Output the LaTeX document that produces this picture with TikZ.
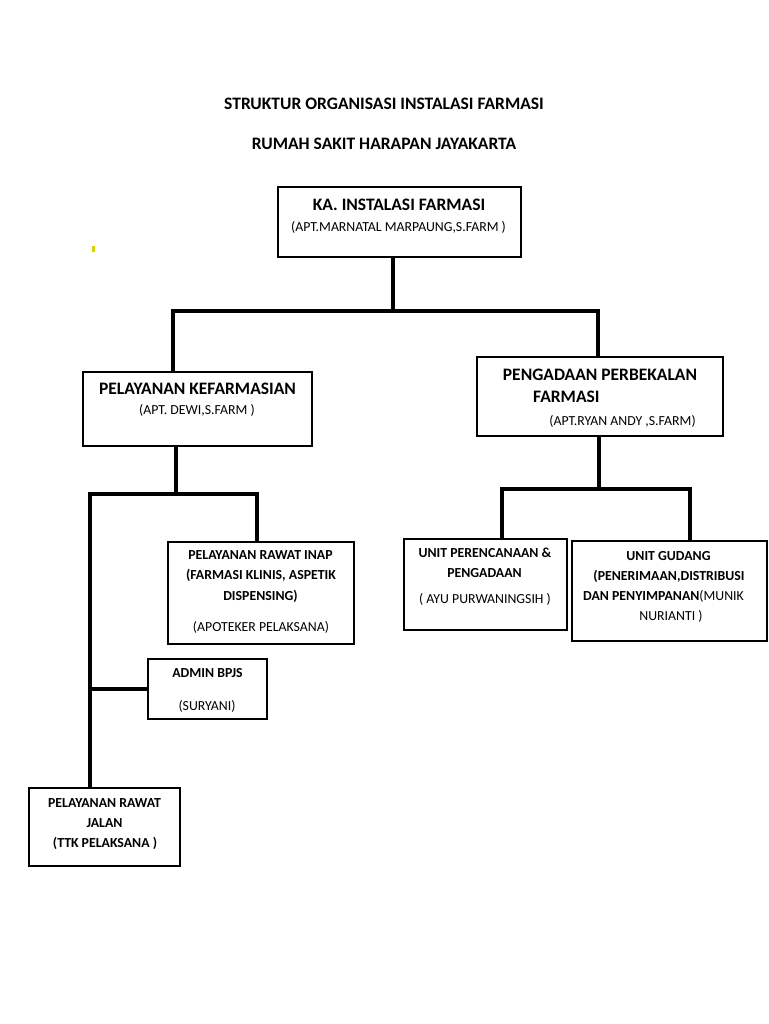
\documentclass[tikz,border=0pt]{standalone}
\usepackage{fontspec}
\setmainfont{Carlito}

\begin{document}
\begin{tikzpicture}[x=1pt,y=-1pt,
  box/.style={draw,line width=1.2pt,inner sep=0pt},
  link/.style={line width=4pt},
  head/.style={font=\fontsize{17.5}{21}\selectfont\bfseries,inner sep=0pt},
  txt/.style={font=\fontsize{13.8}{16}\selectfont,inner sep=0pt},
  btxt/.style={font=\fontsize{13.8}{16}\selectfont\bfseries,inner sep=0pt}]
\useasboundingbox (0,0) rectangle (768,1024);
\fill[white] (0,0) rectangle (768,1024);
% title
\node (t1) at (384,104) [head]{STRUKTUR ORGANISASI INSTALASI FARMASI};
\node (t2) at (384,144) [head]{RUMAH SAKIT HARAPAN JAYAKARTA};
\fill[yellow!70!olive] (92,246) rectangle (95,252);
% boxes
\node (ka) at (399.5,222) [box,minimum width=243pt,minimum height=70pt]{};
\node (pk) at (197.5,409) [box,minimum width=229pt,minimum height=74pt]{};
\node (pp) at (600,396.5) [box,minimum width=246pt,minimum height=79pt]{};
\node (up) at (485.5,584.5) [box,minimum width=163pt,minimum height=91pt]{};
\node (ug) at (669.5,591) [box,minimum width=195pt,minimum height=100pt]{};
\node (ri) at (261,593) [box,minimum width=186pt,minimum height=102pt]{};
\node (ad) at (207.5,689) [box,minimum width=119pt,minimum height=60pt]{};
\node (rj) at (104.5,827) [box,minimum width=151pt,minimum height=78pt]{};
% texts
\node (ka1) at (399,205) [head]{KA. INSTALASI FARMASI};
\node (ka2) at (398.5,227) [txt]{(APT.MARNATAL MARPAUNG,S.FARM )};
\node (pk1) at (197.5,389) [head]{PELAYANAN KEFARMASIAN};
\node (pk2) at (197,410) [txt]{(APT. DEWI,S.FARM )};
\node (pp1) at (600,375) [head]{PENGADAAN PERBEKALAN};
\node (pp2) at (533,397) [head,anchor=west]{FARMASI};
\node (pp3) at (622.5,421) [txt]{(APT.RYAN ANDY ,S.FARM)};
\node (up1) at (485,553) [btxt]{UNIT PERENCANAAN \&};
\node (up2) at (484.5,573) [btxt]{PENGADAAN};
\node (up3) at (485,599) [txt]{( AYU PURWANINGSIH )};
\node (ug1) at (668.5,556) [btxt]{UNIT GUDANG};
\node (ug2) at (669,576) [btxt]{(PENERIMAAN,DISTRIBUSI};
\node (ug3) at (663.5,596) [txt]{\bfseries DAN PENYIMPANAN\mdseries(MUNIK};
\node (ug4) at (671,616) [txt]{NURIANTI )};
\node (ri1) at (260.5,555) [btxt]{PELAYANAN RAWAT INAP};
\node (ri2) at (261,575) [btxt]{(FARMASI KLINIS, ASPETIK};
\node (ri3) at (260.5,596) [btxt]{DISPENSING)};
\node (ri4) at (261,627) [txt]{(APOTEKER PELAKSANA)};
\node (ad1) at (207.5,673) [btxt]{ADMIN BPJS};
\node (ad2) at (207,706) [txt]{(SURYANI)};
\node (rj1) at (104.5,803) [btxt]{PELAYANAN RAWAT};
\node (rj2) at (104.5,823) [btxt]{JALAN};
\node (rj3) at (105,843) [btxt]{(TTK PELAKSANA )};
% connectors
\draw[link] ([xshift=-6.5pt]ka.south) -- ++(0,53) coordinate (kaj);
\draw[link] ([xshift=-24.5pt]pk.north) |- (kaj) -| ([xshift=-2pt]pp.north);
\draw[link] ([xshift=-21.5pt]pk.south) -- ++(0,47) coordinate (pkj);
\coordinate (rjt) at ([xshift=-14.5pt]rj.north);
\draw[link] (rjt) |- (pkj) -| ([xshift=-4pt]ri.north);
\draw[link] (ad.west) -- (ad.west -| rjt);
\draw[link] ([xshift=-1pt]pp.south) -- ++(0,52) coordinate (ppj);
\draw[link] ([xshift=16.5pt]up.north) |- (ppj) -| ([xshift=20.5pt]ug.north);
\end{tikzpicture}
\end{document}
